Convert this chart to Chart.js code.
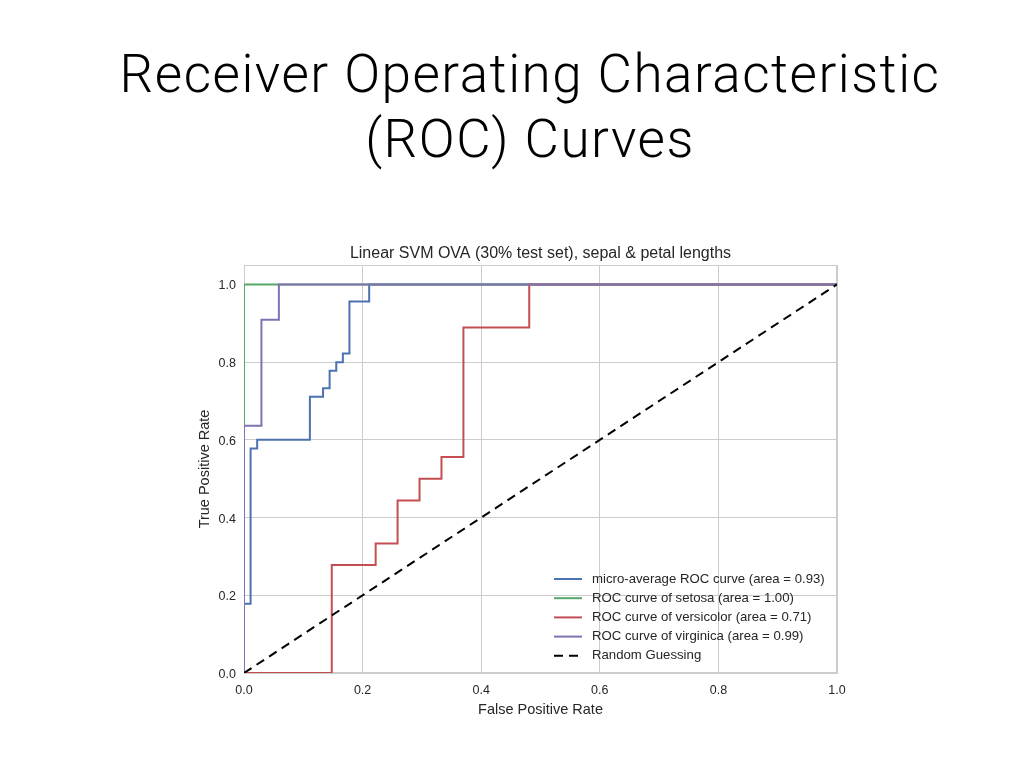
<!DOCTYPE html>
<html>
<head>
<meta charset="utf-8">
<script src="https://cdn.jsdelivr.net/npm/chart.js@4.4.1/dist/chart.umd.min.js"></script>
<style>
  html, body { margin: 0; padding: 0; background: #fff; }
  #wrap { position: relative; width: 1024px; height: 768px; overflow: hidden; }
  h1 {
    position: absolute; left: 0; top: 42px; width: 1060px; margin: 0;
    text-align: center; font-family: Roboto, "Noto Sans", sans-serif;
    font-weight: 300; font-size: 53px; line-height: 64.5px; letter-spacing: 1.5px; color: #000;
  }
  canvas { position: absolute; left: 0; top: 0; }
</style>
</head>
<body>
<div id="wrap">
  <h1>Receiver Operating Characteristic<br>(ROC) Curves</h1>
  <canvas id="roc" width="1024" height="768"></canvas>
</div>
<script>
// ROC curve corner points
var microFpr = [0, 0, 0.0111, 0.0111, 0.0222, 0.0222, 0.1111, 0.1111, 0.1333, 0.1333, 0.1444, 0.1444, 0.1556, 0.1556, 0.1667, 0.1667, 0.1778, 0.1778, 0.2111, 0.2111, 1];
var microTpr = [0, 0.178, 0.178, 0.578, 0.578, 0.6, 0.6, 0.711, 0.711, 0.733, 0.733, 0.778, 0.778, 0.8, 0.8, 0.822, 0.822, 0.956, 0.956, 1, 1];

var setosaFpr = [0, 0, 1];
var setosaTpr = [0, 1, 1];

var versicolorFpr = [0, 0.148, 0.148, 0.222, 0.222, 0.259, 0.259, 0.296, 0.296, 0.333, 0.333, 0.370, 0.370, 0.481, 0.481, 1];
var versicolorTpr = [0, 0, 0.278, 0.278, 0.333, 0.333, 0.444, 0.444, 0.5, 0.5, 0.556, 0.556, 0.889, 0.889, 1, 1];

var virginicaFpr = [0, 0, 0.0294, 0.0294, 0.0588, 0.0588, 1];
var virginicaTpr = [0, 0.636, 0.636, 0.909, 0.909, 1, 1];

var randomFpr = [0, 1];
var randomTpr = [0, 1];

var curveLabels = [
  'micro-average ROC curve (area = 0.93)',
  'ROC curve of setosa (area = 1.00)',
  'ROC curve of versicolor (area = 0.71)',
  'ROC curve of virginica (area = 0.99)',
  'Random Guessing'
];
var curveColors = ['#4C72B0', '#55A868', '#C44E52', '#8172B2', '#000000'];

var xTicks = [0, 0.2, 0.4, 0.6, 0.8, 1.0];
var yTicks = [0, 0.2, 0.4, 0.6, 0.8, 1.0];

var FONT = '"Liberation Sans", Arial, Helvetica, sans-serif';
var TEXT = '#262626';
var GRID = '#cccccc';

function pts(xs, ys) {
  return xs.map(function (x, i) { return { x: x, y: ys[i] }; });
}

function curve(i, xs, ys, extra) {
  var ds = {
    label: curveLabels[i],
    data: pts(xs, ys),
    borderColor: curveColors[i],
    backgroundColor: curveColors[i],
    borderWidth: 2,
    showLine: true,
    pointRadius: 0,
    tension: 0,
    order: 4 - i
  };
  return Object.assign(ds, extra || {});
}

// legend inside the plot, lower right, no box (like matplotlib loc="lower right")
var insideLegend = {
  id: 'insideLegend',
  beforeDatasetsDraw: function (chart) {
    var a = chart.chartArea, ctx = chart.ctx;
    ctx.save();
    ctx.strokeStyle = GRID;
    ctx.lineWidth = 1;
    ctx.strokeRect(a.left + 0.5, a.top + 0.5, a.right - a.left - 1, a.bottom - a.top - 1);
    ctx.restore();
  },
  afterDatasetsDraw: function (chart) {
    var a = chart.chartArea, ctx = chart.ctx;
    var x0 = a.right - 283, y0 = a.bottom - 94, rowH = 19.2;
    ctx.save();
    ctx.font = '13.2px ' + FONT;
    ctx.textBaseline = 'middle';
    chart.data.datasets.forEach(function (ds, i) {
      var y = y0 + i * rowH;
      ctx.strokeStyle = ds.borderColor;
      ctx.lineWidth = 2;
      ctx.setLineDash(ds.borderDash || []);
      ctx.beginPath();
      ctx.moveTo(x0, y);
      ctx.lineTo(x0 + 28, y);
      ctx.stroke();
      ctx.setLineDash([]);
      ctx.fillStyle = TEXT;
      ctx.fillText(ds.label, x0 + 38, y);
    });
    ctx.restore();
  }
};

new Chart(document.getElementById('roc'), {
  type: 'scatter',
  data: {
    datasets: [
      curve(0, microFpr, microTpr),
      curve(1, setosaFpr, setosaTpr),
      curve(2, versicolorFpr, versicolorTpr),
      curve(3, virginicaFpr, virginicaTpr),
      curve(4, randomFpr, randomTpr, { borderDash: [9, 6] })
    ]
  },
  options: {
    responsive: false,
    animation: false,
    layout: { padding: { top: 243.5, left: 190, right: 187, bottom: 45 } },
    plugins: {
      legend: { display: false },
      tooltip: { enabled: false },
      title: {
        display: true,
        fullSize: false,
        text: 'Linear SVM OVA (30% test set), sepal & petal lengths',
        color: TEXT,
        font: { family: FONT, size: 16, weight: 'normal' },
        padding: { top: 0, bottom: 2.3 }
      }
    },
    scales: {
      x: {
        type: 'linear',
        min: 0,
        max: 1,
        afterBuildTicks: function (s) { s.ticks = xTicks.map(function (v) { return { value: v }; }); },
        afterFit: function (s) { s.height = 50; },
        ticks: {
          color: TEXT, padding: 10,
          font: { family: FONT, size: 12.5 },
          callback: function (v) { return Number(v).toFixed(1); }
        },
        grid: { color: GRID, drawTicks: false },
        border: { color: GRID },
        title: {
          display: true, text: 'False Positive Rate', color: TEXT,
          font: { family: FONT, size: 14.5 }
        }
      },
      y: {
        type: 'linear',
        min: 0,
        max: 1.05,
        afterBuildTicks: function (s) { s.ticks = yTicks.map(function (v) { return { value: v }; }); },
        afterFit: function (s) { s.width = 54; },
        ticks: {
          color: TEXT, padding: 8, labelOffset: 1.5,
          font: { family: FONT, size: 12.5 },
          callback: function (v) { return Number(v).toFixed(1); }
        },
        grid: { color: GRID, drawTicks: false },
        border: { color: GRID },
        title: {
          display: true, text: 'True Positive Rate', color: TEXT,
          font: { family: FONT, size: 14.5 },
          padding: { top: 6, bottom: 4 }
        }
      }
    }
  },
  plugins: [insideLegend]
});
</script>
</body>
</html>
